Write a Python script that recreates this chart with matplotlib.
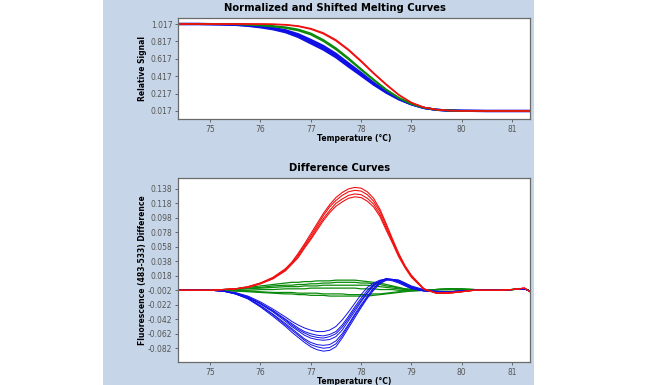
import matplotlib
matplotlib.use('Agg')
import matplotlib.pyplot as plt
from matplotlib.patches import Rectangle

# temperature grid (deg C) for the melting curves
temp = [74.36, 74.75, 75.0, 75.25, 75.5, 75.75, 76.0, 76.25, 76.5, 76.75,
        77.0, 77.25, 77.5, 77.75, 78.0, 78.25, 78.5, 78.75, 79.0, 79.25,
        79.5, 79.75, 80.0, 80.25, 80.5, 80.75, 81.0, 81.25, 81.36]

# finer grid for the difference curves (peaks are narrow)
temp_diff = [74.36, 74.75, 75.0, 75.25, 75.5, 75.75, 76.0, 76.25,
             76.5, 76.625, 76.75, 76.875, 77.0, 77.125, 77.25, 77.375, 77.5, 77.625,
             77.75, 77.875, 78.0, 78.125, 78.25, 78.375, 78.5, 78.625, 78.75, 78.875, 79.0,
             79.25, 79.5, 79.75, 80.0, 80.25, 80.5, 80.75, 81.0, 81.25, 81.36]

# normalized and shifted melting curves
melt_red = [
    [1.017, 1.017, 1.017, 1.017, 1.017, 1.017, 1.017, 1.015, 1.010, 0.995, 0.965, 0.915, 0.835, 0.725, 0.595,
     0.455, 0.325, 0.205, 0.115, 0.060, 0.033, 0.022, 0.019, 0.018, 0.017, 0.017, 0.017, 0.017, 0.017],
    [1.017, 1.017, 1.017, 1.017, 1.017, 1.017, 1.016, 1.013, 1.006, 0.990, 0.958, 0.905, 0.824, 0.715, 0.585,
     0.447, 0.318, 0.200, 0.112, 0.058, 0.032, 0.022, 0.019, 0.018, 0.017, 0.017, 0.017, 0.017, 0.017],
]
melt_green = [
    [1.017, 1.017, 1.017, 1.017, 1.016, 1.012, 1.005, 0.995, 0.980, 0.955, 0.910, 0.835, 0.740, 0.625, 0.500,
     0.380, 0.265, 0.170, 0.100, 0.055, 0.032, 0.022, 0.019, 0.018, 0.017, 0.017, 0.017, 0.017, 0.017],
    [1.017, 1.017, 1.017, 1.016, 1.014, 1.009, 1.000, 0.988, 0.970, 0.942, 0.895, 0.820, 0.725, 0.612, 0.490,
     0.372, 0.260, 0.167, 0.099, 0.055, 0.032, 0.022, 0.019, 0.018, 0.017, 0.017, 0.017, 0.017, 0.017],
]
melt_blue = [
    [1.017, 1.017, 1.016, 1.015, 1.012, 1.004, 0.990, 0.972, 0.945, 0.900, 0.835, 0.765, 0.675, 0.565, 0.455,
     0.342, 0.243, 0.160, 0.097, 0.053, 0.031, 0.022, 0.019, 0.018, 0.017, 0.017, 0.017, 0.017, 0.017],
    [1.017, 1.017, 1.016, 1.014, 1.010, 1.000, 0.985, 0.965, 0.935, 0.885, 0.815, 0.745, 0.655, 0.545, 0.440,
     0.330, 0.235, 0.155, 0.095, 0.052, 0.031, 0.022, 0.019, 0.018, 0.017, 0.017, 0.017, 0.017, 0.017],
    [1.017, 1.017, 1.015, 1.012, 1.007, 0.996, 0.979, 0.956, 0.922, 0.868, 0.795, 0.723, 0.635, 0.528, 0.425,
     0.320, 0.228, 0.151, 0.093, 0.052, 0.031, 0.022, 0.019, 0.018, 0.017, 0.017, 0.017, 0.017, 0.017],
]

# difference curves
diff_red = [
    [-0.002, -0.002, -0.002, -0.001, 0.000, 0.003, 0.008, 0.016,
     0.028, 0.037, 0.049, 0.062, 0.076, 0.090, 0.104, 0.116, 0.126, 0.133, 0.138, 0.140, 0.139,
     0.134, 0.125, 0.110, 0.090, 0.069, 0.049, 0.032, 0.019,
     0.000, -0.006, -0.006, -0.004, -0.002, -0.002, -0.002, -0.001, 0.001, -0.004],
    [-0.002, -0.002, -0.002, -0.001, 0.000, 0.003, 0.008, 0.015,
     0.027, 0.036, 0.047, 0.060, 0.073, 0.087, 0.101, 0.113, 0.122, 0.129, 0.134, 0.136, 0.135,
     0.130, 0.121, 0.107, 0.087, 0.067, 0.047, 0.031, 0.018,
     0.000, -0.006, -0.006, -0.004, -0.002, -0.002, -0.002, -0.001, 0.001, -0.004],
    [-0.002, -0.002, -0.002, -0.001, 0.000, 0.002, 0.007, 0.014,
     0.026, 0.035, 0.045, 0.058, 0.070, 0.084, 0.097, 0.108, 0.118, 0.124, 0.129, 0.131, 0.130,
     0.125, 0.117, 0.103, 0.084, 0.065, 0.046, 0.030, 0.017,
     0.000, -0.006, -0.006, -0.004, -0.002, -0.002, -0.002, -0.001, 0.001, -0.004],
    [-0.002, -0.002, -0.002, -0.001, 0.000, 0.002, 0.007, 0.014,
     0.025, 0.034, 0.043, 0.056, 0.068, 0.081, 0.094, 0.105, 0.114, 0.120, 0.125, 0.127, 0.126,
     0.121, 0.113, 0.100, 0.081, 0.063, 0.044, 0.029, 0.016,
     -0.001, -0.006, -0.005, -0.004, -0.002, -0.002, -0.002, -0.001, 0.001, -0.004],
]
diff_green = [
    [-0.002, -0.002, -0.002, -0.001, 0.000, 0.002, 0.004, 0.006,
     0.008, 0.009, 0.009, 0.010, 0.010, 0.011, 0.011, 0.011, 0.012, 0.012, 0.012, 0.012, 0.011,
     0.010, 0.009, 0.008, 0.006, 0.004, 0.002, 0.000, -0.001,
     -0.002, -0.001, 0.000, 0.000, -0.001, -0.002, -0.002, -0.001, 0.000, -0.003],
    [-0.002, -0.002, -0.002, -0.001, -0.001, 0.001, 0.002, 0.004,
     0.005, 0.005, 0.006, 0.006, 0.007, 0.007, 0.008, 0.008, 0.009, 0.009, 0.009, 0.009, 0.008,
     0.008, 0.007, 0.006, 0.004, 0.003, 0.001, 0.000, -0.001,
     -0.002, -0.001, 0.000, 0.000, -0.001, -0.002, -0.002, -0.001, 0.000, -0.003],
    [-0.002, -0.002, -0.002, -0.002, -0.001, 0.000, 0.001, 0.002,
     0.003, 0.003, 0.003, 0.004, 0.004, 0.004, 0.005, 0.005, 0.005, 0.005, 0.005, 0.005, 0.005,
     0.005, 0.004, 0.003, 0.002, 0.001, 0.000, -0.001, -0.001,
     -0.002, -0.001, 0.000, -0.001, -0.001, -0.002, -0.002, -0.001, 0.000, -0.003],
    [-0.002, -0.002, -0.002, -0.002, -0.002, -0.002, -0.001, -0.001,
     0.000, 0.000, 0.000, 0.000, 0.001, 0.001, 0.001, 0.001, 0.001, 0.001, 0.001, 0.001, 0.000,
     0.000, 0.000, -0.001, -0.001, -0.001, -0.002, -0.002, -0.002,
     -0.002, -0.001, -0.001, -0.001, -0.002, -0.002, -0.002, -0.001, 0.000, -0.003],
    [-0.002, -0.002, -0.002, -0.002, -0.003, -0.003, -0.004, -0.005,
     -0.005, -0.005, -0.006, -0.006, -0.006, -0.006, -0.007, -0.007, -0.007, -0.007, -0.008, -0.008, -0.008,
     -0.008, -0.007, -0.007, -0.006, -0.005, -0.004, -0.003, -0.003,
     -0.002, -0.001, -0.001, -0.001, -0.002, -0.002, -0.002, -0.001, 0.000, -0.003],
    [-0.002, -0.002, -0.002, -0.002, -0.003, -0.004, -0.005, -0.006,
     -0.007, -0.007, -0.008, -0.008, -0.009, -0.009, -0.009, -0.010, -0.010, -0.010, -0.010, -0.010, -0.010,
     -0.010, -0.009, -0.008, -0.007, -0.006, -0.005, -0.004, -0.003,
     -0.002, -0.001, -0.001, -0.001, -0.002, -0.002, -0.002, -0.001, 0.000, -0.003],
]
diff_blue = [
    [-0.002, -0.002, -0.002, -0.003, -0.005, -0.010, -0.018, -0.028,
     -0.039, -0.045, -0.050, -0.054, -0.057, -0.059, -0.059, -0.057, -0.052, -0.043, -0.032, -0.020, -0.008,
     0.002, 0.008, 0.012, 0.013, 0.011, 0.008, 0.004, 0.000,
     -0.003, -0.004, -0.004, -0.003, -0.002, -0.002, -0.002, -0.001, 0.000, -0.003],
    [-0.002, -0.002, -0.002, -0.003, -0.006, -0.011, -0.020, -0.030,
     -0.042, -0.048, -0.054, -0.059, -0.062, -0.064, -0.065, -0.063, -0.059, -0.050, -0.038, -0.025, -0.013,
     -0.002, 0.006, 0.011, 0.014, 0.012, 0.009, 0.005, 0.001,
     -0.003, -0.004, -0.004, -0.003, -0.002, -0.002, -0.002, -0.001, 0.000, -0.003],
    [-0.002, -0.002, -0.002, -0.003, -0.006, -0.011, -0.020, -0.031,
     -0.043, -0.050, -0.056, -0.061, -0.065, -0.067, -0.068, -0.066, -0.062, -0.053, -0.041, -0.028, -0.016,
     -0.005, 0.005, 0.011, 0.014, 0.013, 0.010, 0.005, 0.001,
     -0.003, -0.004, -0.004, -0.003, -0.002, -0.002, -0.002, -0.001, 0.000, -0.003],
    [-0.002, -0.002, -0.002, -0.003, -0.006, -0.012, -0.021, -0.032,
     -0.045, -0.052, -0.058, -0.064, -0.068, -0.070, -0.071, -0.070, -0.066, -0.057, -0.044, -0.031, -0.018,
     -0.006, 0.004, 0.010, 0.014, 0.013, 0.010, 0.006, 0.002,
     -0.002, -0.004, -0.004, -0.003, -0.002, -0.002, -0.002, -0.001, 0.000, -0.003],
    [-0.002, -0.002, -0.002, -0.003, -0.007, -0.013, -0.023, -0.035,
     -0.048, -0.055, -0.062, -0.069, -0.074, -0.077, -0.078, -0.077, -0.072, -0.062, -0.049, -0.035, -0.022,
     -0.010, 0.001, 0.009, 0.013, 0.013, 0.011, 0.007, 0.003,
     -0.002, -0.004, -0.004, -0.003, -0.002, -0.002, -0.002, -0.001, 0.000, -0.003],
    [-0.002, -0.002, -0.002, -0.003, -0.007, -0.013, -0.024, -0.036,
     -0.050, -0.057, -0.064, -0.071, -0.077, -0.080, -0.082, -0.081, -0.076, -0.065, -0.051, -0.037, -0.024,
     -0.012, 0.000, 0.008, 0.012, 0.013, 0.012, 0.008, 0.003,
     -0.002, -0.004, -0.004, -0.003, -0.002, -0.002, -0.002, -0.001, 0.000, -0.003],
    [-0.002, -0.002, -0.002, -0.003, -0.007, -0.014, -0.025, -0.038,
     -0.052, -0.060, -0.067, -0.074, -0.080, -0.084, -0.086, -0.085, -0.080, -0.068, -0.054, -0.040, -0.026,
     -0.013, -0.002, 0.007, 0.012, 0.013, 0.012, 0.008, 0.004,
     -0.001, -0.003, -0.004, -0.003, -0.002, -0.002, -0.002, -0.001, 0.000, -0.003],
]

x_ticks = [75, 76, 77, 78, 79, 80, 81]
melt_ticks = [0.017, 0.217, 0.417, 0.617, 0.817, 1.017]
diff_ticks = [0.138, 0.118, 0.098, 0.078, 0.058, 0.038, 0.018, -0.002,
              -0.022, -0.042, -0.062, -0.082]

RED = '#f01010'
GREEN = '#0a8a0a'
BLUE = '#1010e6'
PANEL = '#c6d6e8'

fig = plt.figure(figsize=(6.69, 3.85), dpi=100)
fig.patch.set_facecolor('white')
panel = Rectangle((103 / 669, 0), (534 - 103) / 669, 1, transform=fig.transFigure,
                  facecolor=PANEL, edgecolor='none', zorder=-10)
fig.add_artist(panel)

ax1 = fig.add_axes([178 / 669, 1 - 119 / 385, 352 / 669, 101 / 385])
ax2 = fig.add_axes([178 / 669, 1 - 362 / 385, 352 / 669, 184 / 385])

for c in melt_blue:
    ax1.plot(temp, c, color=BLUE, lw=1.6)
for c in melt_green:
    ax1.plot(temp, c, color=GREEN, lw=1.2)
for c in melt_red:
    ax1.plot(temp, c, color=RED, lw=1.0)

for c in diff_green:
    ax2.plot(temp_diff, c, color=GREEN, lw=0.9)
for c in diff_blue:
    ax2.plot(temp_diff, c, color=BLUE, lw=0.7)
for c in diff_red:
    ax2.plot(temp_diff, c, color=RED, lw=0.8)

ax1.set_xlim(74.36, 81.36)
ax1.set_ylim(-0.075, 1.086)
ax2.set_xlim(74.36, 81.36)
ax2.set_ylim(-0.101, 0.153)

ax1.set_yticks(melt_ticks)
ax1.set_yticklabels([f'{v:.3f}' for v in melt_ticks])
ax2.set_yticks(diff_ticks)
ax2.set_yticklabels([f'{v:.3f}' for v in diff_ticks])

for ax in (ax1, ax2):
    ax.set_facecolor('white')
    ax.set_xticks(x_ticks)
    ax.tick_params(labelsize=5.5, colors='#555555', length=2, width=0.6, pad=2)
    for s in ax.spines.values():
        s.set_color('#6a6a6a')
        s.set_linewidth(0.9)
    ax.set_xlabel('Temperature (°C)', fontsize=5.5, fontweight='bold', labelpad=0)
    ax.yaxis.set_label_coords(-0.088, 0.5)

ax1.set_ylabel('Relative Signal', fontsize=5.5, fontweight='bold')
ax2.set_ylabel('Fluorescence (483-533) Difference', fontsize=5.5, fontweight='bold')

fig.text(335 / 669, 1 - 8 / 385, 'Normalized and Shifted Melting Curves', ha='center', va='center',
         fontsize=7.2, fontweight='heavy')
fig.text(340 / 669, 1 - 168 / 385, 'Difference Curves', ha='center', va='center',
         fontsize=7.2, fontweight='heavy')

fig.savefig('out.png', dpi=100)
